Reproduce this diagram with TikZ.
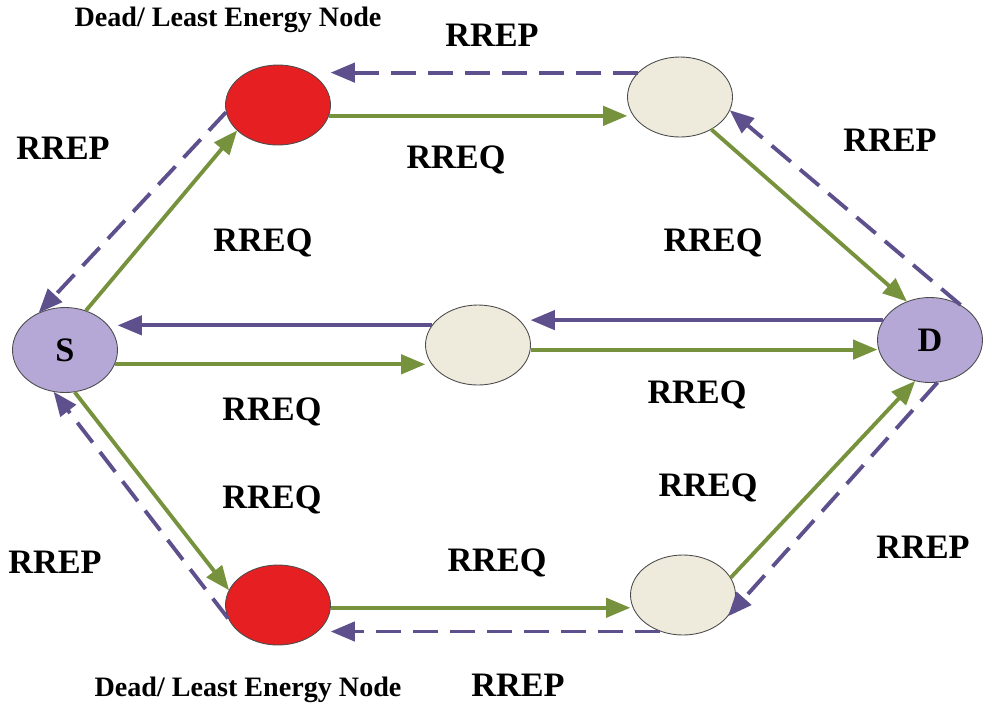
\documentclass[tikz,border=0pt]{standalone}
\usepackage{fontspec}
\setmainfont{Liberation Serif}
\usepackage{tikz}
\usetikzlibrary{arrows}
\usetikzlibrary{shapes.geometric}
\definecolor{fwd}{RGB}{118,146,60}
\definecolor{rev}{RGB}{94,80,140}
\definecolor{dead}{RGB}{230,32,34}
\definecolor{mid}{RGB}{238,235,220}
\definecolor{end}{RGB}{182,168,214}
\begin{document}
\begin{tikzpicture}[x=0.2mm, y=-0.2mm,
	every node/.style={font=\bfseries\fontsize{19.5}{22}\selectfont},
	nd/.style={draw=black!70, line width=0.5pt, ellipse, minimum width=21mm, minimum height=16mm, inner sep=0pt},
	req/.style={draw=fwd, line width=2.2pt, -triangle 45},
	rep/.style={draw=rev, line width=2.2pt, -triangle 45},
	repd/.style={rep, dash pattern=on 5mm off 2.4mm}]
	\useasboundingbox (0,0) rectangle (991,712);
	\node[nd, fill=end, minimum width=21mm, minimum height=17mm] (S) at (65,350) {S};
	\node[nd, fill=end, minimum width=21mm, minimum height=17mm] (D) at (930,340) {D};
	\node[nd, fill=dead] (Dead1) at (278,105) {};
	\node[nd, fill=dead] (Dead2) at (278,605) {};
	\node[nd, fill=mid] (N1) at (680,97) {};
	\node[nd, fill=mid] (N2) at (478,345) {};
	\node[nd, fill=mid] (N3) at (683,595) {};
	\node[font=\bfseries\fontsize{16}{18}\selectfont] (Lbl1) at (228,20) {Dead/ Least Energy Node};
	\node[font=\bfseries\fontsize{16}{18}\selectfont] (Lbl2) at (248,690) {Dead/ Least Energy Node};
	% top path
	\draw[req] (S.62) -- (Dead1.212);
	\draw[repd] (Dead1.188) -- (S.125);
	\draw[req] (Dead1.-12) -- (Dead1.-12 -| N1.west);
	\draw[repd] (N1.150) -- (N1.150 -| Dead1.east);
	\draw[req] (N1.-46) -- (D.121);
	\draw[repd] (D.49) -- (N1.-15);
	% middle path
	\draw[rep] (D.157) -- (D.157 -| N2.east);
	\draw[rep] (N2.157) -- (N2.157 -| S.east);
	\draw[req] (S.-16) -- (S.-16 -| N2.west);
	\draw[req] (N2.-5) -- (N2.-5 -| D.west);
	% bottom path
	\draw[req] (S.-77) -- (Dead2.163);
	\draw[repd] (Dead2.195) -- (S.-105);
	\draw[req] (Dead2.-3) -- (Dead2.-3 -| N3.west);
	\draw[repd] (N3.238) -- (N3.238 -| Dead2.east);
	\draw[req] (N3.20) -- (D.-110);
	\draw[repd] (D.-80) -- (N3.-25);
	% labels
	\node (L1) at (492,35) {RREP};
	\node (L2) at (63,148) {RREP};
	\node (L3) at (456,160) {RREQ};
	\node (L4) at (890,140) {RREP};
	\node (L5) at (263,243) {RREQ};
	\node (L6) at (713,243) {RREQ};
	\node (L7) at (272,412) {RREQ};
	\node (L8) at (697,395) {RREQ};
	\node (L9) at (272,500) {RREQ};
	\node (L10) at (708,488) {RREQ};
	\node (L11) at (55,562) {RREP};
	\node (L12) at (923,547) {RREP};
	\node (L13) at (497,563) {RREQ};
	\node (L14) at (518,685) {RREP};
\end{tikzpicture}
\end{document}
